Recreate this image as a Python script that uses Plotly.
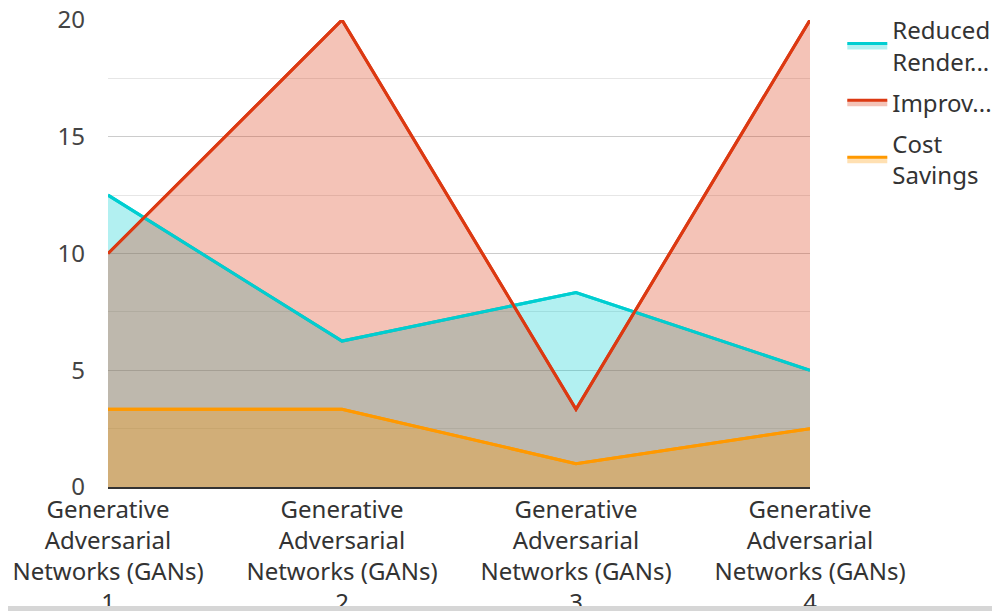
import plotly.graph_objects as go

categories = [
    "Generative<br>Adversarial<br>Networks (GANs)<br>1",
    "Generative<br>Adversarial<br>Networks (GANs)<br>2",
    "Generative<br>Adversarial<br>Networks (GANs)<br>3",
    "Generative<br>Adversarial<br>Networks (GANs)<br>4",
]
series_names = ["Reduced<br>Render...", "Improv...", "Cost<br>Savings"]
reduced = [12.5, 6.25, 8.33, 5.0]
improv = [10.0, 20.0, 3.33, 20.0]
cost = [3.33, 3.33, 1.0, 2.5]

line_colors = ["#00CED1", "#DC3912", "#FF9900"]
fill_colors = ["rgba(0,206,209,0.3)", "rgba(220,57,18,0.3)", "rgba(255,153,0,0.3)"]

font_family = "Noto Sans, Open Sans, sans-serif"
all_series = [reduced, improv, cost]

fig = go.Figure()
# filled areas (with legend entries)
for i, (name, vals, lc, fc) in enumerate(zip(series_names, all_series, line_colors, fill_colors)):
    fig.add_trace(go.Scatter(
        x=categories, y=vals, name=name, mode="lines", legendgroup=f"g{i}",
        line=dict(color=lc, width=3), fill="tozeroy", fillcolor=fc,
    ))
# lines drawn on top of all fills
for i, (name, vals, lc) in enumerate(zip(series_names, all_series, line_colors)):
    fig.add_trace(go.Scatter(
        x=categories, y=vals, name=name, mode="lines", legendgroup=f"g{i}",
        line=dict(color=lc, width=3), showlegend=False, hoverinfo="skip",
    ))

fig.update_layout(
    width=1000, height=611, autosize=False,
    margin=dict(l=100, r=198, t=12, b=132, autoexpand=False),
    paper_bgcolor="white", plot_bgcolor="white",
    font=dict(family=font_family, size=24, color="#333333"),
    legend=dict(x=1.046, y=1.026, xanchor="left", yanchor="top",
                font=dict(size=24, color="#333333"), tracegroupgap=7,
                itemwidth=40),
    xaxis=dict(
        range=[0, 3], showgrid=False, showline=True, linecolor="#333333",
        linewidth=2, ticks="", automargin=False, tickangle=0,
        tickfont=dict(size=24, color="#333333"),
    ),
    yaxis=dict(
        range=[0, 20.0001], dtick=5, tick0=0, showgrid=True, gridcolor="#cccccc",
        gridwidth=1, zeroline=False, showline=False, ticks="",
        ticklabelstandoff=22, automargin=False, ticklabeloverflow="allow",
        tickfont=dict(size=24, color="#444444"),
        minor=dict(dtick=2.5, showgrid=True, gridcolor="#e6e6e6", gridwidth=1),
    ),
    shapes=[dict(type="rect", xref="paper", yref="paper",
                 x0=-0.2, x1=1.3, y0=-(606 - 487) / 467, y1=-(625 - 487) / 467,
                 fillcolor="#d6d6d6", line=dict(width=0), layer="above")],
)

fig.write_html("out.html")
